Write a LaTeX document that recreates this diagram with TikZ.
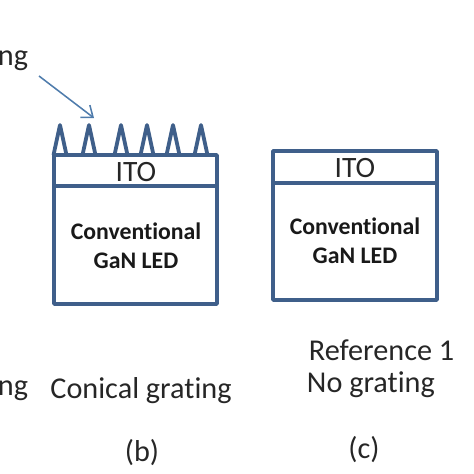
\documentclass[tikz,border=0pt]{standalone}
\usepackage{fontspec}
\setmainfont[Ligatures=NoCommon]{Carlito}
\usepackage{xcolor}
\usepackage{tikz}
\usetikzlibrary{arrows.meta, positioning}
\definecolor{boxblue}{HTML}{3F5F8A}
\definecolor{arrowblue}{HTML}{4F7CAC}
\tikzset{
  ledbox/.style={draw=boxblue, line width=2.7pt, line join=round},
  cone/.style={draw=boxblue, line width=2.7pt, line join=round},
  caption/.style={font=\fontsize{21.5}{24}\selectfont, text=black!85},
  itolabel/.style={font=\fontsize{21}{24}\selectfont, text=black!85},
  ledlabel/.style={font=\fontsize{16.9}{20.5}\selectfont\bfseries, align=center, text=black!90},
}

\begin{document}
\begin{tikzpicture}[>={Straight Barb[length=7pt,width=11pt]}, x=0.025cm, y=-0.025cm]
    \useasboundingbox (0,0) rectangle (474,474);

    % grating cones
    \foreach \tipx in {60, 89, 121, 147, 173, 201} {
      \draw[cone] (\tipx-6.5, 155) -- (\tipx, 125) -- (\tipx+6.5, 155);
    }

    % middle device
    \draw[ledbox] (54, 155) rectangle (217, 304);
    \draw[ledbox] (54, 186) -- (217, 186);
    \node[itolabel] (itob) at (136, 172) {ITO};
    \node[ledlabel] (ledb) at (136, 246) {Conventional\\GaN LED};

    % right device
    \draw[ledbox] (273, 151) rectangle (437, 300);
    \draw[ledbox] (273, 183) -- (437, 183);
    \node[itolabel] (itoc) at (355, 168) {ITO};
    \node[ledlabel] (ledc) at (355, 241) {Conventional\\GaN LED};

    \node[caption, anchor=east] (topng) at (33, 61) {ng};
    \coordinate (arrowstart) at (39, 76);
    \coordinate (arrowend) at (94, 118);
    \draw[->, draw=arrowblue, line width=1.1pt] (arrowstart) -- (arrowend);

    \node[caption, anchor=east] (botng) at (33, 391) {ng};
    \node[caption] (conical) at (141, 391) {Conical grating};
    \node[caption, anchor=west] (refone) at (304, 350) {Reference 1};
    \node[caption, anchor=west] (nograting) at (302, 385) {No grating};
    \node[caption] (capb) at (142, 453) {(b)};
    \node[caption] (capc) at (364, 450) {(c)};
\end{tikzpicture}
\end{document}
